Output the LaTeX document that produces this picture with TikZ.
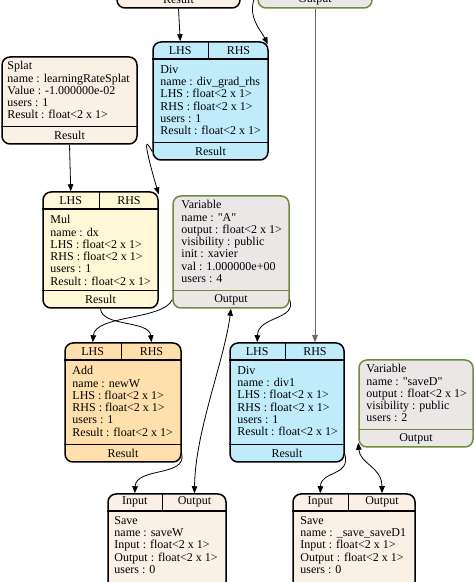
\documentclass[tikz,border=0pt]{standalone}
\usepackage{fontspec}
\setmainfont{Liberation Serif}
\usetikzlibrary{arrows.meta,calc}

\definecolor{divblue}{RGB}{192,235,251}
\definecolor{linen}{RGB}{250,240,230}
\definecolor{mulyellow}{RGB}{255,247,214}
\definecolor{addorange}{RGB}{255,224,172}
\definecolor{vargray}{RGB}{235,231,231}
\definecolor{vargreen}{RGB}{110,140,60}
\definecolor{wiregray}{RGB}{105,105,105}

\tikzset{
  rec/.style={draw,line width=1.5pt,rounded corners=8pt,inner sep=0pt},
  opbox/.style={rec,fill=linen},
  varbox/.style={rec,draw=vargreen,fill=vargray},
  rule/.style={line width=1.5pt},
  cell/.style={inner sep=0pt},
  body/.style={anchor=north west,align=left,inner sep=0pt},
  wire/.style={->,line width=0.8pt},
}

% header row: record, left label, right label, left cell width
\newcommand{\heads}[4]{%
  \draw[rule] ([yshift=-18pt]#1.north west) -- ([yshift=-18pt]#1.north east);
  \draw[rule] ([xshift=#4]#1.north west) coordinate (#1-mid) -- ++(0,-18);
  \node[cell] (#1-l) at ($(#1.north west)!.5!(#1-mid)+(0,-9)$) {#2};
  \node[cell] (#1-r) at ($(#1-mid)!.5!(#1.north east)+(0,-9)$) {#3};
  \coordinate (#1-lp) at ($(#1.north west)!.5!(#1-mid)$);
  \coordinate (#1-rp) at ($(#1-mid)!.5!(#1.north east)$);
}
% footer row: [rule colour] record, label
\newcommand{\foot}[3][black]{%
  \draw[rule,#1] ([yshift=18pt]#2.south west) -- ([yshift=18pt]#2.south east);
  \node[cell] (#2-o) at ([yshift=9pt]#2.south) {#3};
}

\begin{document}
\begin{tikzpicture}[x=1pt,y=1pt,>={Triangle[length=7pt,width=5.5pt]},
    every node/.style={font=\fontsize{12}{12.3}\selectfont}]
  \useasboundingbox (0,0) rectangle (474,582);
  \clip (0,0) rectangle (474,582);

  % cut off at the top
  \node[opbox,minimum width=123pt,minimum height=48pt] (prevop) at (178.5,598) {};
  \foot{prevop}{Result}
  \node[varbox,minimum width=114pt,minimum height=48pt] (prevvar) at (315,598) {};
  \foot[vargreen]{prevvar}{Output}

  \node[rec,fill=divblue,minimum width=115pt,minimum height=118pt] (div) at (210.5,481) {};
  \heads{div}{LHS}{RHS}{56pt}
  \foot{div}{Result}
  \node[body] (div-txt) at ([xshift=8pt,yshift=-24pt]div.north west)
    {Div\\name : div\_grad\_rhs\\LHS : float<2 x 1>\\RHS : float<2 x 1>\\users : 1\\Result : float<2 x 1>};

  \node[opbox,minimum width=135pt,minimum height=87pt] (splat) at (69.5,481.5) {};
  \foot{splat}{Result}
  \node[body] (splat-txt) at ([xshift=6pt,yshift=-5pt]splat.north west)
    {Splat\\name : learningRateSplat\\Value : -1.000000e-02\\users : 1\\Result : float<2 x 1>};

  \node[rec,fill=mulyellow,minimum width=115pt,minimum height=116pt] (mul) at (100.5,332) {};
  \heads{mul}{LHS}{RHS}{57pt}
  \foot{mul}{Result}
  \node[body] (mul-txt) at ([xshift=8pt,yshift=-24pt]mul.north west)
    {Mul\\name : dx\\LHS : float<2 x 1>\\RHS : float<2 x 1>\\users : 1\\Result : float<2 x 1>};

  \node[varbox,minimum width=116pt,minimum height=112pt] (vara) at (231,330) {};
  \foot[vargreen]{vara}{Output}
  \node[body] (vara-txt) at ([xshift=9pt,yshift=-5pt]vara.north west)
    {Variable\\name : \textquotedbl A\textquotedbl\\output : float<2 x 1>\\visibility : public\\init : xavier\\val : 1.000000e+00\\users : 4};

  \node[rec,fill=addorange,minimum width=116pt,minimum height=119pt] (add) at (123,179.5) {};
  \heads{add}{LHS}{RHS}{57pt}
  \foot{add}{Result}
  \node[body] (add-txt) at ([xshift=8pt,yshift=-24pt]add.north west)
    {Add\\name : newW\\LHS : float<2 x 1>\\RHS : float<2 x 1>\\users : 1\\Result : float<2 x 1>};

  \node[rec,fill=divblue,minimum width=114pt,minimum height=119pt] (div1) at (287,179.5) {};
  \heads{div1}{LHS}{RHS}{56pt}
  \foot{div1}{Result}
  \node[body] (div1-txt) at ([xshift=8pt,yshift=-24pt]div1.north west)
    {Div\\name : div1\\LHS : float<2 x 1>\\RHS : float<2 x 1>\\users : 1\\Result : float<2 x 1>};

  \node[varbox,minimum width=114pt,minimum height=87pt] (vard) at (416,178.5) {};
  \foot[vargreen]{vard}{Output}
  \node[body] (vard-txt) at ([xshift=8pt,yshift=-5pt]vard.north west)
    {Variable\\name : \textquotedbl saveD\textquotedbl\\output : float<2 x 1>\\visibility : public\\users : 2};

  % cut off at the bottom
  \node[opbox,minimum width=118pt,minimum height=96pt] (savew) at (167,40) {};
  \heads{savew}{Input}{Output}{55pt}
  \node[body] (savew-txt) at ([xshift=7pt,yshift=-23pt]savew.north west)
    {Save\\name : saveW\\Input : float<2 x 1>\\Output : float<2 x 1>\\users : 0};

  \node[opbox,minimum width=122pt,minimum height=96pt] (saved) at (354,40) {};
  \heads{saved}{Input}{Output}{56pt}
  \node[body] (saved-txt) at ([xshift=8pt,yshift=-23pt]saved.north west)
    {Save\\name : \_save\_saveD1\\Input : float<2 x 1>\\Output : float<2 x 1>\\users : 0};

  % connectors
  \draw[wire] (prevop.south) -- (div-lp);
  \draw[wire] ([yshift=16pt]prevvar.south west) .. controls (244,568) and (262,550) .. ([xshift=-1pt,yshift=-3pt]div.north east);
  \draw[wire,wiregray] (prevvar.south) -- (div1-rp);
  \draw[wire] (splat.south) -- (mul-lp);
  \draw[wire] ([yshift=9pt]div.south west) .. controls (138,458) and (155,400) .. ([yshift=-3pt]mul.north east);
  \draw[wire] (mul.south) .. controls (102,255) and (149,262) .. (add-rp);
  \draw[wire] ([yshift=9pt]vara.south west) .. controls (163,262) and (95,267) .. (add-lp);
  \draw[wire] ([yshift=9pt]vara.south east) .. controls (297,262) and (258,266) .. (div1-lp);
  \draw[wire,<->] (vara.south) .. controls (224,220) and (195,150) .. (savew-rp);
  \draw[wire] ([yshift=9pt]add.south east) .. controls (187,105) and (136,115) .. (savew-lp);
  \draw[wire] ([yshift=9pt]div1.south east) .. controls (351,105) and (321,112) .. (saved-lp);
  \draw[wire,<->] ([yshift=5pt]vard.south west) .. controls (360,118) and (382,115) .. (saved-rp);
\end{tikzpicture}
\end{document}
